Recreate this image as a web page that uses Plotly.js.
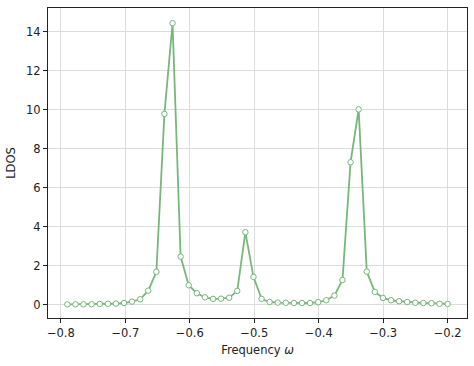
<!DOCTYPE html>
<html>
<head>
<meta charset="utf-8">
<script src="https://cdn.plot.ly/plotly-3.0.1.min.js"></script>
<style>html,body{margin:0;padding:0;background:#fff;}#chart{width:474px;height:366px;}</style>
</head>
<body>
<div id="chart"></div>
<script>
const freq = [-0.7900,-0.7774,-0.7649,-0.7523,-0.7398,-0.7272,-0.7147,-0.7021,-0.6896,-0.6770,
  -0.6645,-0.6519,-0.6394,-0.6268,-0.6143,-0.6017,-0.5891,-0.5766,-0.5640,-0.5515,
  -0.5389,-0.5264,-0.5138,-0.5013,-0.4887,-0.4762,-0.4636,-0.4511,-0.4385,-0.4260,
  -0.4134,-0.4009,-0.3883,-0.3757,-0.3632,-0.3506,-0.3381,-0.3255,-0.3130,-0.3004,
  -0.2879,-0.2753,-0.2628,-0.2502,-0.2377,-0.2251,-0.2126,-0.2000];
const ldos = [0.03,0.03,0.03,0.04,0.05,0.06,0.07,0.10,0.17,0.29,
  0.73,1.70,9.80,14.45,2.48,1.01,0.60,0.39,0.31,0.32,
  0.37,0.72,3.73,1.44,0.31,0.15,0.12,0.11,0.10,0.10,
  0.10,0.14,0.24,0.48,1.28,7.32,10.03,1.71,0.67,0.36,
  0.24,0.19,0.15,0.11,0.10,0.09,0.06,0.05];
const xTicks = [-0.8,-0.7,-0.6,-0.5,-0.4,-0.3,-0.2];
const xTickText = ['\u22120.8','\u22120.7','\u22120.6','\u22120.5','\u22120.4','\u22120.3','\u22120.2'];
const yTicks = [0,2,4,6,8,10,12,14];

const font = {family: 'DejaVu Sans', size: 11.5, color: '#222'};
Plotly.newPlot('chart', [{
  x: freq, y: ldos, type: 'scatter', mode: 'lines+markers',
  line: {color: '#77b77c', width: 1.8},
  marker: {symbol: 'circle', size: 5.5, color: '#ffffff', line: {color: '#77b77c', width: 1}}
}], {
  width: 474, height: 366,
  margin: {l: 48, r: 7, t: 8, b: 48},
  paper_bgcolor: '#fff', plot_bgcolor: '#fff',
  showlegend: false,
  font: font,
  xaxis: {
    range: [-0.82, -0.17], tickvals: xTicks, ticktext: xTickText,
    showline: true, linecolor: '#222', linewidth: 1, mirror: true,
    ticks: 'outside', ticklen: 4, tickcolor: '#222',
    showgrid: true, gridcolor: '#dcdcdc', gridwidth: 1, zeroline: false,
    title: {text: 'Frequency <i>ω</i>', font: font, standoff: 7}
  },
  yaxis: {
    range: [-0.67, 15.23], tickvals: yTicks,
    showline: true, linecolor: '#222', linewidth: 1, mirror: true,
    ticks: 'outside', ticklen: 4, tickcolor: '#222',
    showgrid: true, gridcolor: '#dcdcdc', gridwidth: 1, zeroline: false,
    title: {text: 'LDOS', font: font, standoff: 8}
  }
}, {displayModeBar: false, staticPlot: true});
</script>
</body>
</html>
